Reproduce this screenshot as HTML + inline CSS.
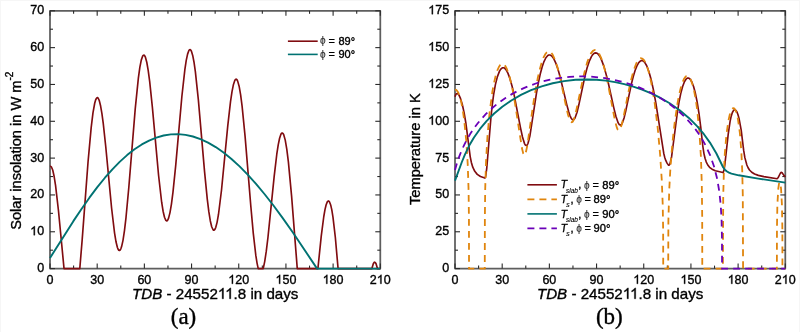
<!DOCTYPE html>
<html><head><meta charset="utf-8"><style>
html,body{margin:0;padding:0;background:#fff;}
body{width:800px;height:332px;overflow:hidden;font-family:"Liberation Sans",sans-serif;}
svg{display:block;will-change:transform;}
text{stroke:#000;stroke-width:0.35px;}
</style></head><body>
<svg width="800" height="332" viewBox="0 0 800 332" font-family="Liberation Sans, sans-serif" stroke-linecap="butt">
<rect width="800" height="332" fill="#fff"/><path d="M0,0.5H800M0.5,0V332M799.5,0V332" stroke="#f6f6f6" stroke-width="1"/>
<rect x="50.0" y="10.8" width="330.30" height="257.80" fill="none" stroke="#5e5e5e" stroke-width="1.75" stroke-linejoin="round"/>
<g stroke="#2a2a2a" stroke-width="1.1"><line x1="50.00" y1="268.6" x2="50.00" y2="263.6"/><line x1="50.00" y1="10.8" x2="50.00" y2="15.8"/><line x1="73.59" y1="268.6" x2="73.59" y2="265.6"/><line x1="73.59" y1="10.8" x2="73.59" y2="13.8"/><line x1="97.19" y1="268.6" x2="97.19" y2="263.6"/><line x1="97.19" y1="10.8" x2="97.19" y2="15.8"/><line x1="120.78" y1="268.6" x2="120.78" y2="265.6"/><line x1="120.78" y1="10.8" x2="120.78" y2="13.8"/><line x1="144.37" y1="268.6" x2="144.37" y2="263.6"/><line x1="144.37" y1="10.8" x2="144.37" y2="15.8"/><line x1="167.96" y1="268.6" x2="167.96" y2="265.6"/><line x1="167.96" y1="10.8" x2="167.96" y2="13.8"/><line x1="191.56" y1="268.6" x2="191.56" y2="263.6"/><line x1="191.56" y1="10.8" x2="191.56" y2="15.8"/><line x1="215.15" y1="268.6" x2="215.15" y2="265.6"/><line x1="215.15" y1="10.8" x2="215.15" y2="13.8"/><line x1="238.74" y1="268.6" x2="238.74" y2="263.6"/><line x1="238.74" y1="10.8" x2="238.74" y2="15.8"/><line x1="262.34" y1="268.6" x2="262.34" y2="265.6"/><line x1="262.34" y1="10.8" x2="262.34" y2="13.8"/><line x1="285.93" y1="268.6" x2="285.93" y2="263.6"/><line x1="285.93" y1="10.8" x2="285.93" y2="15.8"/><line x1="309.52" y1="268.6" x2="309.52" y2="265.6"/><line x1="309.52" y1="10.8" x2="309.52" y2="13.8"/><line x1="333.11" y1="268.6" x2="333.11" y2="263.6"/><line x1="333.11" y1="10.8" x2="333.11" y2="15.8"/><line x1="356.71" y1="268.6" x2="356.71" y2="265.6"/><line x1="356.71" y1="10.8" x2="356.71" y2="13.8"/><line x1="380.30" y1="268.6" x2="380.30" y2="263.6"/><line x1="380.30" y1="10.8" x2="380.30" y2="15.8"/><line x1="50.0" y1="268.60" x2="55.0" y2="268.60"/><line x1="380.3" y1="268.60" x2="375.3" y2="268.60"/><line x1="50.0" y1="250.19" x2="53.0" y2="250.19"/><line x1="380.3" y1="250.19" x2="377.3" y2="250.19"/><line x1="50.0" y1="231.77" x2="55.0" y2="231.77"/><line x1="380.3" y1="231.77" x2="375.3" y2="231.77"/><line x1="50.0" y1="213.36" x2="53.0" y2="213.36"/><line x1="380.3" y1="213.36" x2="377.3" y2="213.36"/><line x1="50.0" y1="194.94" x2="55.0" y2="194.94"/><line x1="380.3" y1="194.94" x2="375.3" y2="194.94"/><line x1="50.0" y1="176.53" x2="53.0" y2="176.53"/><line x1="380.3" y1="176.53" x2="377.3" y2="176.53"/><line x1="50.0" y1="158.11" x2="55.0" y2="158.11"/><line x1="380.3" y1="158.11" x2="375.3" y2="158.11"/><line x1="50.0" y1="139.70" x2="53.0" y2="139.70"/><line x1="380.3" y1="139.70" x2="377.3" y2="139.70"/><line x1="50.0" y1="121.29" x2="55.0" y2="121.29"/><line x1="380.3" y1="121.29" x2="375.3" y2="121.29"/><line x1="50.0" y1="102.87" x2="53.0" y2="102.87"/><line x1="380.3" y1="102.87" x2="377.3" y2="102.87"/><line x1="50.0" y1="84.46" x2="55.0" y2="84.46"/><line x1="380.3" y1="84.46" x2="375.3" y2="84.46"/><line x1="50.0" y1="66.04" x2="53.0" y2="66.04"/><line x1="380.3" y1="66.04" x2="377.3" y2="66.04"/><line x1="50.0" y1="47.63" x2="55.0" y2="47.63"/><line x1="380.3" y1="47.63" x2="375.3" y2="47.63"/><line x1="50.0" y1="29.21" x2="53.0" y2="29.21"/><line x1="380.3" y1="29.21" x2="377.3" y2="29.21"/><line x1="50.0" y1="10.80" x2="55.0" y2="10.80"/><line x1="380.3" y1="10.80" x2="375.3" y2="10.80"/></g>
<g font-size="12.5" fill="#000"><text x="50.00" y="283.8" text-anchor="middle">0</text><text x="97.19" y="283.8" text-anchor="middle">30</text><text x="144.37" y="283.8" text-anchor="middle">60</text><text x="191.56" y="283.8" text-anchor="middle">90</text><text id="one1" x="238.74" y="283.8" text-anchor="middle">&#x2007;20</text><text id="one2" x="285.93" y="283.8" text-anchor="middle">&#x2007;50</text><text id="one3" x="333.11" y="283.8" text-anchor="middle">&#x2007;80</text><text id="one4" x="380.30" y="283.8" text-anchor="middle">2&#x2007;0</text><text x="44.10" y="272.00" text-anchor="end">0</text><text id="one5" x="44.10" y="235.17" text-anchor="end">&#x2007;0</text><text x="44.10" y="198.34" text-anchor="end">20</text><text x="44.10" y="161.51" text-anchor="end">30</text><text x="44.10" y="124.69" text-anchor="end">40</text><text x="44.10" y="87.86" text-anchor="end">50</text><text x="44.10" y="51.03" text-anchor="end">60</text><text x="44.10" y="14.20" text-anchor="end">70</text></g>
<path d="M50.00,166.52 L50.66,166.29 L51.34,166.80 L52.71,170.04 L54.11,176.27 L55.58,185.70 L58.45,210.52 L64.03,268.60 L79.79,268.60 L82.21,239.38 L88.06,161.80 L91.18,127.56 L92.97,112.95 L94.70,103.25 L95.55,100.19 L96.40,98.30 L97.23,97.59 L98.08,98.02 L99.32,100.70 L100.58,105.79 L101.89,113.38 L103.27,123.70 L105.76,146.73 L111.61,208.25 L114.57,233.11 L116.01,241.78 L117.41,247.46 L118.10,249.20 L118.78,250.20 L119.46,250.48 L120.13,250.05 L120.84,248.82 L121.55,246.81 L123.00,240.33 L124.47,230.58 L126.03,217.29 L128.83,187.26 L135.23,108.90 L138.36,78.05 L139.84,67.44 L141.27,60.13 L142.67,56.06 L143.36,55.21 L144.06,55.14 L144.73,55.82 L145.41,57.23 L146.78,62.24 L148.19,70.27 L149.67,81.38 L152.36,107.10 L158.57,175.28 L161.66,202.23 L163.10,211.25 L164.50,217.28 L165.87,220.40 L166.55,220.89 L167.23,220.68 L167.90,219.77 L168.59,218.12 L169.99,212.61 L171.44,204.06 L172.95,192.38 L175.67,165.81 L181.87,96.51 L184.86,69.56 L186.24,60.44 L187.58,54.12 L188.88,50.52 L189.53,49.72 L190.17,49.59 L190.80,50.10 L191.43,51.24 L192.71,55.43 L194.01,62.23 L195.36,71.71 L198.34,99.65 L204.56,171.62 L207.30,199.33 L208.83,211.65 L210.27,220.69 L211.69,226.73 L213.07,229.78 L213.73,230.21 L214.40,229.98 L215.06,229.08 L215.73,227.50 L217.08,222.37 L218.48,214.48 L221.52,190.02 L227.76,125.93 L230.49,101.89 L232.01,91.56 L233.46,84.45 L234.86,80.35 L235.55,79.40 L236.24,79.19 L236.95,79.74 L237.67,81.10 L239.12,86.23 L240.60,94.63 L242.12,106.37 L245.11,136.63 L250.85,206.51 L253.26,233.09 L255.82,255.39 L257.04,263.08 L258.21,268.58 L263.20,268.60 L264.70,261.62 L266.25,251.42 L267.95,237.52 L274.18,176.39 L276.79,154.24 L278.22,144.85 L279.59,138.23 L280.91,134.30 L281.57,133.31 L282.22,132.98 L282.97,133.43 L283.73,134.76 L285.24,140.10 L286.78,149.08 L288.38,161.91 L291.58,195.92 L297.27,268.59 L317.90,268.60 L321.25,236.08 L323.79,216.50 L324.98,209.67 L326.15,204.80 L327.29,201.87 L327.86,201.15 L328.41,200.92 L328.98,201.17 L329.54,201.92 L330.68,204.93 L331.81,209.94 L332.97,217.09 L335.35,237.49 L338.08,268.60 L371.87,268.60 L373.30,263.77 L373.99,262.58 L374.68,262.18 L375.38,262.60 L376.05,263.78 L377.44,268.60 L380.30,268.60" fill="none" stroke="#800c10" stroke-width="1.65" stroke-linejoin="round"/>
<path d="M50.00,257.98 L73.36,221.15 L81.68,208.71 L89.43,197.69 L97.33,187.16 L104.96,177.74 L112.38,169.33 L119.66,161.89 L127.13,155.11 L134.51,149.30 L141.82,144.45 L149.09,140.54 L156.34,137.56 L163.59,135.49 L170.84,134.35 L178.11,134.13 L185.50,134.84 L192.94,136.48 L200.44,139.06 L208.04,142.60 L215.73,147.09 L223.53,152.54 L231.48,158.97 L239.59,166.40 L247.69,174.64 L256.03,183.90 L264.66,194.25 L273.66,205.78 L282.92,218.33 L292.88,232.46 L317.06,268.60 L380.30,268.60" fill="none" stroke="#007272" stroke-width="1.9" stroke-linejoin="round"/>
<line x1="287.9" y1="41.2" x2="317.7" y2="41.2" stroke="#800c10" stroke-width="1.6"/>
<line x1="287.9" y1="54.4" x2="317.7" y2="54.4" stroke="#007272" stroke-width="1.6"/>
<g font-size="11"><text x="319.9" y="44.20" font-size="10.1" fill="#2a2a2a" style="stroke:#2a2a2a;stroke-width:0.1px">&#x3d5;</text><text x="328.5" y="44.70" style="stroke-width:0.15px">=</text><text x="338.4" y="44.70" font-size="11">89°</text><text x="319.9" y="57.50" font-size="10.1" fill="#2a2a2a" style="stroke:#2a2a2a;stroke-width:0.1px">&#x3d5;</text><text x="328.5" y="58.00" style="stroke-width:0.15px">=</text><text x="338.4" y="58.00" font-size="11">90°</text></g>
<text x="21.5" y="229.8" font-size="14.6" transform="rotate(-90 21.5 229.8)">Solar insolation in W m<tspan font-size="10" dy="-8.5">-2</tspan></text>
<text id="one6" x="132.0" y="298.8" font-size="15.15"><tspan font-style="italic">TDB</tspan> - 24552&#x2007;<tspan dx="-1.11">&#x2007;</tspan>.8 in days</text>
<text x="183.5" y="323.6" font-size="23" font-family="Liberation Serif, serif" text-anchor="middle">(a)</text>
<rect x="455.0" y="10.8" width="330.30" height="257.80" fill="none" stroke="#5e5e5e" stroke-width="1.75" stroke-linejoin="round"/>
<g stroke="#2a2a2a" stroke-width="1.1"><line x1="455.00" y1="268.6" x2="455.00" y2="263.6"/><line x1="455.00" y1="10.8" x2="455.00" y2="15.8"/><line x1="478.59" y1="268.6" x2="478.59" y2="265.6"/><line x1="478.59" y1="10.8" x2="478.59" y2="13.8"/><line x1="502.19" y1="268.6" x2="502.19" y2="263.6"/><line x1="502.19" y1="10.8" x2="502.19" y2="15.8"/><line x1="525.78" y1="268.6" x2="525.78" y2="265.6"/><line x1="525.78" y1="10.8" x2="525.78" y2="13.8"/><line x1="549.37" y1="268.6" x2="549.37" y2="263.6"/><line x1="549.37" y1="10.8" x2="549.37" y2="15.8"/><line x1="572.96" y1="268.6" x2="572.96" y2="265.6"/><line x1="572.96" y1="10.8" x2="572.96" y2="13.8"/><line x1="596.56" y1="268.6" x2="596.56" y2="263.6"/><line x1="596.56" y1="10.8" x2="596.56" y2="15.8"/><line x1="620.15" y1="268.6" x2="620.15" y2="265.6"/><line x1="620.15" y1="10.8" x2="620.15" y2="13.8"/><line x1="643.74" y1="268.6" x2="643.74" y2="263.6"/><line x1="643.74" y1="10.8" x2="643.74" y2="15.8"/><line x1="667.34" y1="268.6" x2="667.34" y2="265.6"/><line x1="667.34" y1="10.8" x2="667.34" y2="13.8"/><line x1="690.93" y1="268.6" x2="690.93" y2="263.6"/><line x1="690.93" y1="10.8" x2="690.93" y2="15.8"/><line x1="714.52" y1="268.6" x2="714.52" y2="265.6"/><line x1="714.52" y1="10.8" x2="714.52" y2="13.8"/><line x1="738.11" y1="268.6" x2="738.11" y2="263.6"/><line x1="738.11" y1="10.8" x2="738.11" y2="15.8"/><line x1="761.71" y1="268.6" x2="761.71" y2="265.6"/><line x1="761.71" y1="10.8" x2="761.71" y2="13.8"/><line x1="785.30" y1="268.6" x2="785.30" y2="263.6"/><line x1="785.30" y1="10.8" x2="785.30" y2="15.8"/><line x1="455.0" y1="268.60" x2="460.0" y2="268.60"/><line x1="785.3" y1="268.60" x2="780.3" y2="268.60"/><line x1="455.0" y1="250.19" x2="458.0" y2="250.19"/><line x1="785.3" y1="250.19" x2="782.3" y2="250.19"/><line x1="455.0" y1="231.77" x2="460.0" y2="231.77"/><line x1="785.3" y1="231.77" x2="780.3" y2="231.77"/><line x1="455.0" y1="213.36" x2="458.0" y2="213.36"/><line x1="785.3" y1="213.36" x2="782.3" y2="213.36"/><line x1="455.0" y1="194.94" x2="460.0" y2="194.94"/><line x1="785.3" y1="194.94" x2="780.3" y2="194.94"/><line x1="455.0" y1="176.53" x2="458.0" y2="176.53"/><line x1="785.3" y1="176.53" x2="782.3" y2="176.53"/><line x1="455.0" y1="158.11" x2="460.0" y2="158.11"/><line x1="785.3" y1="158.11" x2="780.3" y2="158.11"/><line x1="455.0" y1="139.70" x2="458.0" y2="139.70"/><line x1="785.3" y1="139.70" x2="782.3" y2="139.70"/><line x1="455.0" y1="121.29" x2="460.0" y2="121.29"/><line x1="785.3" y1="121.29" x2="780.3" y2="121.29"/><line x1="455.0" y1="102.87" x2="458.0" y2="102.87"/><line x1="785.3" y1="102.87" x2="782.3" y2="102.87"/><line x1="455.0" y1="84.46" x2="460.0" y2="84.46"/><line x1="785.3" y1="84.46" x2="780.3" y2="84.46"/><line x1="455.0" y1="66.04" x2="458.0" y2="66.04"/><line x1="785.3" y1="66.04" x2="782.3" y2="66.04"/><line x1="455.0" y1="47.63" x2="460.0" y2="47.63"/><line x1="785.3" y1="47.63" x2="780.3" y2="47.63"/><line x1="455.0" y1="29.21" x2="458.0" y2="29.21"/><line x1="785.3" y1="29.21" x2="782.3" y2="29.21"/><line x1="455.0" y1="10.80" x2="460.0" y2="10.80"/><line x1="785.3" y1="10.80" x2="780.3" y2="10.80"/></g>
<g font-size="12.5" fill="#000"><text x="455.00" y="283.8" text-anchor="middle">0</text><text x="502.19" y="283.8" text-anchor="middle">30</text><text x="549.37" y="283.8" text-anchor="middle">60</text><text x="596.56" y="283.8" text-anchor="middle">90</text><text id="one7" x="643.74" y="283.8" text-anchor="middle">&#x2007;20</text><text id="one8" x="690.93" y="283.8" text-anchor="middle">&#x2007;50</text><text id="one9" x="738.11" y="283.8" text-anchor="middle">&#x2007;80</text><text id="one10" x="785.30" y="283.8" text-anchor="middle">2&#x2007;0</text><text x="449.10" y="272.00" text-anchor="end">0</text><text x="449.10" y="235.17" text-anchor="end">25</text><text x="449.10" y="198.34" text-anchor="end">50</text><text x="449.10" y="161.51" text-anchor="end">75</text><text id="one11" x="449.10" y="124.69" text-anchor="end">&#x2007;00</text><text id="one12" x="449.10" y="87.86" text-anchor="end">&#x2007;25</text><text id="one13" x="449.10" y="51.03" text-anchor="end">&#x2007;50</text><text id="one14" x="449.10" y="14.20" text-anchor="end">&#x2007;75</text></g>
<path d="M455.00,96.86 L455.64,94.90 L456.40,93.79 L457.26,93.53 L458.22,94.14 L459.23,95.59 L460.25,97.81 L462.31,104.49 L464.14,112.87 L465.93,123.49 L470.19,156.61 L471.37,162.46 L472.77,167.14 L474.77,171.35 L477.27,174.39 L480.50,176.54 L484.88,178.08 L485.32,177.45 L485.78,175.65 L486.74,168.47 L490.94,117.47 L492.26,104.82 L493.66,94.38 L495.45,84.39 L497.42,76.61 L499.53,71.17 L500.61,69.39 L501.71,68.25 L502.72,67.77 L503.73,67.80 L504.75,68.35 L505.79,69.42 L507.90,73.14 L510.03,78.91 L512.09,86.24 L514.27,95.61 L520.57,128.12 L522.49,136.99 L524.50,143.56 L525.42,145.15 L526.30,145.64 L527.18,145.02 L528.04,143.26 L529.87,136.02 L536.52,92.92 L538.39,82.56 L540.25,73.96 L542.12,66.95 L543.99,61.57 L545.90,57.75 L547.80,55.55 L548.79,55.04 L549.78,54.95 L550.79,55.29 L551.79,56.06 L553.84,58.87 L555.93,63.40 L557.96,69.25 L560.11,76.81 L566.64,104.09 L568.78,112.07 L569.96,115.56 L571.05,117.96 L572.08,119.38 L573.07,119.83 L574.03,119.36 L575.01,117.94 L577.05,112.19 L578.89,104.55 L584.97,76.04 L587.12,67.82 L589.21,61.46 L591.43,56.59 L592.53,54.92 L593.63,53.74 L594.73,53.06 L595.83,52.89 L596.93,53.21 L598.04,54.03 L599.51,55.88 L601.02,58.65 L604.11,66.88 L607.69,80.24 L613.75,107.59 L615.89,116.25 L618.20,122.92 L619.25,124.57 L620.28,125.15 L621.22,124.72 L622.16,123.37 L624.16,117.66 L625.92,110.20 L631.38,83.97 L633.27,76.43 L635.08,70.49 L636.92,65.83 L638.74,62.65 L640.57,60.91 L641.48,60.59 L642.37,60.63 L643.44,61.14 L644.53,62.18 L646.70,65.79 L648.87,71.46 L651.07,79.27 L653.43,89.86 L655.87,103.05 L663.73,153.19 L664.68,157.17 L665.76,160.44 L667.04,163.13 L668.45,165.13 L668.85,165.29 L669.22,165.12 L669.99,163.77 L671.58,156.97 L677.37,112.49 L679.02,102.11 L680.72,93.61 L682.55,86.69 L684.43,81.72 L686.34,78.82 L687.30,78.13 L688.25,77.97 L689.14,78.27 L690.02,79.01 L691.76,81.79 L693.49,86.29 L695.19,92.49 L697.14,101.94 L699.00,113.51 L700.74,127.05 L702.79,146.00 L703.95,153.59 L705.04,158.31 L706.30,162.06 L707.77,165.00 L709.55,167.28 L712.04,169.21 L715.32,170.68 L722.92,172.56 L723.42,172.03 L724.12,169.41 L724.87,164.50 L728.22,134.19 L730.09,121.31 L731.21,116.13 L732.37,112.49 L733.60,110.34 L734.23,109.84 L734.87,109.73 L735.93,110.39 L736.97,112.05 L738.00,114.72 L739.03,118.40 L741.20,130.07 L743.68,150.44 L744.86,157.65 L746.86,164.96 L748.09,167.74 L749.49,169.97 L751.74,172.29 L754.58,174.02 L758.33,175.35 L763.83,176.59 L777.09,178.78 L778.03,177.78 L780.33,173.25 L780.91,172.59 L781.45,172.39 L782.12,172.78 L783.71,175.12 L785.30,176.83" fill="none" stroke="#800c10" stroke-width="1.65" stroke-linejoin="round"/>
<path d="M455.00,89.84 L455.79,89.75 L456.59,90.14 L458.19,92.36 L459.77,96.46 L461.29,102.36 L462.74,109.96 L464.08,119.08 L466.32,141.26 L467.74,164.41 L468.59,190.52 L468.95,219.25 L469.03,268.60 L484.77,268.60 L484.87,217.58 L485.21,188.78 L486.05,161.44 L487.42,137.03 L489.62,112.27 L492.42,91.43 L493.98,82.98 L495.61,75.97 L497.31,70.50 L499.04,66.66 L500.31,64.89 L501.60,63.96 L502.89,63.90 L504.20,64.69 L505.50,66.33 L506.81,68.81 L509.45,76.35 L511.92,86.39 L514.42,99.42 L521.91,148.05 L523.25,153.57 L523.86,154.86 L524.46,155.21 L525.09,154.59 L525.75,152.89 L527.19,146.11 L533.77,100.62 L537.72,78.28 L539.64,69.80 L541.55,62.92 L543.47,57.65 L545.38,54.02 L546.56,52.57 L547.75,51.73 L548.95,51.51 L550.14,51.90 L551.34,52.92 L552.55,54.56 L554.99,59.68 L557.28,66.62 L559.67,75.80 L566.28,107.26 L568.09,114.96 L570.01,120.58 L570.89,121.90 L571.75,122.29 L572.62,121.76 L573.51,120.26 L575.47,114.23 L583.20,77.61 L585.26,69.13 L587.21,62.39 L589.20,56.95 L591.15,53.10 L593.07,50.80 L594.02,50.23 L594.98,50.04 L596.02,50.26 L597.06,50.94 L599.14,53.65 L601.23,58.17 L603.35,64.53 L605.40,72.27 L607.54,81.90 L615.16,121.65 L616.96,127.96 L617.77,129.63 L618.58,130.38 L619.38,130.21 L620.18,129.14 L621.93,124.09 L623.64,116.59 L628.33,92.47 L630.88,80.71 L633.65,70.40 L636.32,63.30 L637.80,60.67 L639.26,58.99 L640.72,58.27 L642.17,58.50 L643.62,59.69 L645.05,61.82 L646.46,64.89 L647.88,68.92 L649.63,75.28 L651.34,83.06 L654.63,102.67 L657.63,127.09 L660.12,154.42 L661.72,179.28 L662.71,204.19 L663.14,229.42 L663.23,268.60 L668.20,268.60 L668.39,220.67 L669.29,188.81 L670.20,171.70 L671.41,154.81 L672.90,138.36 L674.62,123.09 L677.56,102.99 L679.12,94.86 L680.72,88.07 L682.34,82.78 L683.96,79.01 L685.60,76.72 L686.41,76.14 L687.22,75.96 L688.11,76.19 L689.01,76.90 L690.76,79.70 L692.47,84.40 L694.11,90.87 L695.65,99.04 L697.06,108.75 L699.42,132.13 L700.90,156.48 L701.80,184.19 L702.19,215.97 L702.28,268.60 L722.90,268.60 L723.22,196.80 L723.83,173.23 L724.84,153.24 L726.44,134.59 L728.50,120.29 L729.67,115.05 L730.88,111.27 L732.14,108.95 L732.77,108.37 L733.41,108.17 L734.02,108.35 L734.62,108.89 L735.82,111.07 L736.95,114.63 L738.02,119.56 L739.89,133.16 L741.32,151.05 L742.24,170.97 L742.79,194.58 L743.08,268.60 L776.87,268.60 L776.96,227.69 L777.37,204.84 L778.32,188.37 L778.96,183.89 L779.32,182.71 L779.68,182.33 L780.05,182.74 L780.39,183.89 L781.02,188.28 L781.95,204.67 L782.36,228.50 L782.44,268.60 L785.30,268.60" fill="none" stroke="#e0850d" stroke-width="1.8" stroke-dasharray="6.8 5.2"/>
<path d="M455.00,180.64 L461.67,162.49 L465.00,154.29 L469.22,145.58 L473.97,137.46 L479.98,128.93 L486.72,120.94 L494.18,113.53 L502.30,106.75 L511.32,100.46 L520.93,94.93 L531.08,90.20 L541.68,86.30 L552.67,83.25 L564.00,81.08 L575.58,79.81 L587.31,79.43 L596.59,79.76 L605.87,80.65 L615.10,82.09 L624.26,84.07 L633.27,86.58 L642.09,89.61 L650.68,93.14 L658.97,97.14 L669.66,103.30 L679.65,110.24 L688.87,117.92 L697.27,126.30 L703.92,134.18 L709.94,142.60 L716.41,153.49 L723.11,167.27 L724.87,169.67 L727.01,171.51 L729.01,172.63 L731.45,173.58 L738.70,175.31 L758.26,178.59 L785.30,182.67" fill="none" stroke="#007272" stroke-width="1.9" stroke-linejoin="round"/>
<path d="M455.00,170.09 L456.87,163.50 L459.01,157.13 L461.42,150.99 L464.11,145.04 L467.06,139.33 L470.29,133.84 L473.80,128.55 L477.57,123.48 L481.63,118.62 L485.97,113.96 L490.56,109.55 L495.42,105.37 L500.52,101.45 L505.85,97.79 L511.40,94.39 L517.18,91.25 L523.21,88.37 L529.43,85.79 L535.81,83.51 L542.36,81.54 L549.03,79.88 L555.82,78.53 L562.71,77.51 L569.68,76.81 L576.72,76.44 L583.82,76.40 L590.93,76.68 L598.04,77.29 L605.13,78.22 L612.18,79.47 L619.16,81.05 L626.05,82.93 L632.62,85.05 L639.06,87.45 L645.35,90.12 L651.45,93.06 L657.36,96.25 L663.06,99.68 L668.53,103.35 L673.75,107.23 L678.69,111.32 L683.38,115.61 L687.78,120.10 L691.90,124.78 L695.74,129.63 L699.30,134.68 L702.57,139.91 L705.56,145.32 L710.29,155.70 L714.14,166.82 L717.15,178.81 L719.35,191.84 L720.75,205.27 L721.60,220.70 L721.98,239.01 L722.06,268.60 L785.30,268.60" fill="none" stroke="#6a00b8" stroke-width="1.8" stroke-dasharray="6.8 5.2"/>
<line x1="527.4" y1="184.8" x2="556.9" y2="184.8" stroke="#800c10" stroke-width="1.6"/>
<line x1="527.4" y1="199.4" x2="556.9" y2="199.4" stroke="#e0850d" stroke-width="1.6" stroke-dasharray="7 5"/>
<line x1="527.4" y1="213.9" x2="556.9" y2="213.9" stroke="#007272" stroke-width="1.6"/>
<line x1="527.4" y1="228.4" x2="556.9" y2="228.4" stroke="#6a00b8" stroke-width="1.6" stroke-dasharray="7 5"/>
<g font-size="11"><text x="560.7" y="188.4" font-style="italic" font-size="10.4">T</text><text x="566.0" y="192.7" font-style="italic" font-size="6.6" style="stroke-width:0.12px" textLength="11.9" lengthAdjust="spacingAndGlyphs">slab</text><text x="578.3" y="188.4">,</text><text x="584.0" y="188.80" font-size="10.1" fill="#2a2a2a" style="stroke:#2a2a2a;stroke-width:0.1px">&#x3d5;</text><text x="592.6" y="188.70" style="stroke-width:0.15px">=</text><text x="602.2" y="188.70" font-size="11.2">89°</text><text x="560.7" y="203.0" font-style="italic" font-size="10.4">T</text><text x="566.2" y="207.3" font-style="italic" font-size="6.6" style="stroke-width:0.12px" textLength="3.4" lengthAdjust="spacingAndGlyphs">s</text><text x="570.4" y="203.0">,</text><text x="576.3" y="203.40" font-size="10.1" fill="#2a2a2a" style="stroke:#2a2a2a;stroke-width:0.1px">&#x3d5;</text><text x="584.5" y="203.30" style="stroke-width:0.15px">=</text><text x="593.6" y="203.30" font-size="11.2">89°</text><text x="560.7" y="217.5" font-style="italic" font-size="10.4">T</text><text x="566.0" y="221.8" font-style="italic" font-size="6.6" style="stroke-width:0.12px" textLength="11.9" lengthAdjust="spacingAndGlyphs">slab</text><text x="578.3" y="217.5">,</text><text x="584.0" y="217.90" font-size="10.1" fill="#2a2a2a" style="stroke:#2a2a2a;stroke-width:0.1px">&#x3d5;</text><text x="592.6" y="217.80" style="stroke-width:0.15px">=</text><text x="602.2" y="217.80" font-size="11.2">90°</text><text x="560.7" y="232.0" font-style="italic" font-size="10.4">T</text><text x="566.2" y="236.3" font-style="italic" font-size="6.6" style="stroke-width:0.12px" textLength="3.4" lengthAdjust="spacingAndGlyphs">s</text><text x="570.4" y="232.0">,</text><text x="576.3" y="232.40" font-size="10.1" fill="#2a2a2a" style="stroke:#2a2a2a;stroke-width:0.1px">&#x3d5;</text><text x="584.5" y="232.30" style="stroke-width:0.15px">=</text><text x="593.6" y="232.30" font-size="11.2">90°</text></g>
<text x="420.4" y="205.1" font-size="14.7" transform="rotate(-90 420.4 205.1)">Temperature in K</text>
<text id="one15" x="536.9" y="298.8" font-size="15.15"><tspan font-style="italic">TDB</tspan> - 24552&#x2007;<tspan dx="-1.11">&#x2007;</tspan>.8 in days</text>
<text x="609.3" y="323.6" font-size="23" font-family="Liberation Serif, serif" text-anchor="middle">(b)</text>
<g fill="#000" stroke="#000" stroke-width="0.35" vector-effect="non-scaling-stroke"><path transform="translate(228.310,283.800) scale(0.006104,-0.006104)" d="M763,0L583,0L583,1147C518,1085 412,1023 305,961C263,937 240,930 220,922L220,1096C373,1168 488,1270 561,1362C603,1414 640,1466 651,1476L763,1476Z" vector-effect="non-scaling-stroke"/><path transform="translate(275.500,283.800) scale(0.006104,-0.006104)" d="M763,0L583,0L583,1147C518,1085 412,1023 305,961C263,937 240,930 220,922L220,1096C373,1168 488,1270 561,1362C603,1414 640,1466 651,1476L763,1476Z" vector-effect="non-scaling-stroke"/><path transform="translate(322.680,283.800) scale(0.006104,-0.006104)" d="M763,0L583,0L583,1147C518,1085 412,1023 305,961C263,937 240,930 220,922L220,1096C373,1168 488,1270 561,1362C603,1414 640,1466 651,1476L763,1476Z" vector-effect="non-scaling-stroke"/><path transform="translate(376.808,283.800) scale(0.006104,-0.006104)" d="M763,0L583,0L583,1147C518,1085 412,1023 305,961C263,937 240,930 220,922L220,1096C373,1168 488,1270 561,1362C603,1414 640,1466 651,1476L763,1476Z" vector-effect="non-scaling-stroke"/><path transform="translate(30.194,235.170) scale(0.006104,-0.006104)" d="M763,0L583,0L583,1147C518,1085 412,1023 305,961C263,937 240,930 220,922L220,1096C373,1168 488,1270 561,1362C603,1414 640,1466 651,1476L763,1476Z" vector-effect="non-scaling-stroke"/><path transform="translate(217.844,298.800) scale(0.007397,-0.007397)" d="M763,0L583,0L583,1147C518,1085 412,1023 305,961C263,937 240,930 220,922L220,1096C373,1168 488,1270 561,1362C603,1414 640,1466 651,1476L763,1476Z" vector-effect="non-scaling-stroke"/><path transform="translate(225.171,298.800) scale(0.007397,-0.007397)" d="M763,0L583,0L583,1147C518,1085 412,1023 305,961C263,937 240,930 220,922L220,1096C373,1168 488,1270 561,1362C603,1414 640,1466 651,1476L763,1476Z" vector-effect="non-scaling-stroke"/><path transform="translate(633.310,283.800) scale(0.006104,-0.006104)" d="M763,0L583,0L583,1147C518,1085 412,1023 305,961C263,937 240,930 220,922L220,1096C373,1168 488,1270 561,1362C603,1414 640,1466 651,1476L763,1476Z" vector-effect="non-scaling-stroke"/><path transform="translate(680.500,283.800) scale(0.006104,-0.006104)" d="M763,0L583,0L583,1147C518,1085 412,1023 305,961C263,937 240,930 220,922L220,1096C373,1168 488,1270 561,1362C603,1414 640,1466 651,1476L763,1476Z" vector-effect="non-scaling-stroke"/><path transform="translate(727.680,283.800) scale(0.006104,-0.006104)" d="M763,0L583,0L583,1147C518,1085 412,1023 305,961C263,937 240,930 220,922L220,1096C373,1168 488,1270 561,1362C603,1414 640,1466 651,1476L763,1476Z" vector-effect="non-scaling-stroke"/><path transform="translate(781.808,283.800) scale(0.006104,-0.006104)" d="M763,0L583,0L583,1147C518,1085 412,1023 305,961C263,937 240,930 220,922L220,1096C373,1168 488,1270 561,1362C603,1414 640,1466 651,1476L763,1476Z" vector-effect="non-scaling-stroke"/><path transform="translate(428.241,124.690) scale(0.006104,-0.006104)" d="M763,0L583,0L583,1147C518,1085 412,1023 305,961C263,937 240,930 220,922L220,1096C373,1168 488,1270 561,1362C603,1414 640,1466 651,1476L763,1476Z" vector-effect="non-scaling-stroke"/><path transform="translate(428.241,87.860) scale(0.006104,-0.006104)" d="M763,0L583,0L583,1147C518,1085 412,1023 305,961C263,937 240,930 220,922L220,1096C373,1168 488,1270 561,1362C603,1414 640,1466 651,1476L763,1476Z" vector-effect="non-scaling-stroke"/><path transform="translate(428.241,51.030) scale(0.006104,-0.006104)" d="M763,0L583,0L583,1147C518,1085 412,1023 305,961C263,937 240,930 220,922L220,1096C373,1168 488,1270 561,1362C603,1414 640,1466 651,1476L763,1476Z" vector-effect="non-scaling-stroke"/><path transform="translate(428.241,14.200) scale(0.006104,-0.006104)" d="M763,0L583,0L583,1147C518,1085 412,1023 305,961C263,937 240,930 220,922L220,1096C373,1168 488,1270 561,1362C603,1414 640,1466 651,1476L763,1476Z" vector-effect="non-scaling-stroke"/><path transform="translate(622.744,298.800) scale(0.007397,-0.007397)" d="M763,0L583,0L583,1147C518,1085 412,1023 305,961C263,937 240,930 220,922L220,1096C373,1168 488,1270 561,1362C603,1414 640,1466 651,1476L763,1476Z" vector-effect="non-scaling-stroke"/><path transform="translate(630.071,298.800) scale(0.007397,-0.007397)" d="M763,0L583,0L583,1147C518,1085 412,1023 305,961C263,937 240,930 220,922L220,1096C373,1168 488,1270 561,1362C603,1414 640,1466 651,1476L763,1476Z" vector-effect="non-scaling-stroke"/></g>
</svg>
</body></html>
